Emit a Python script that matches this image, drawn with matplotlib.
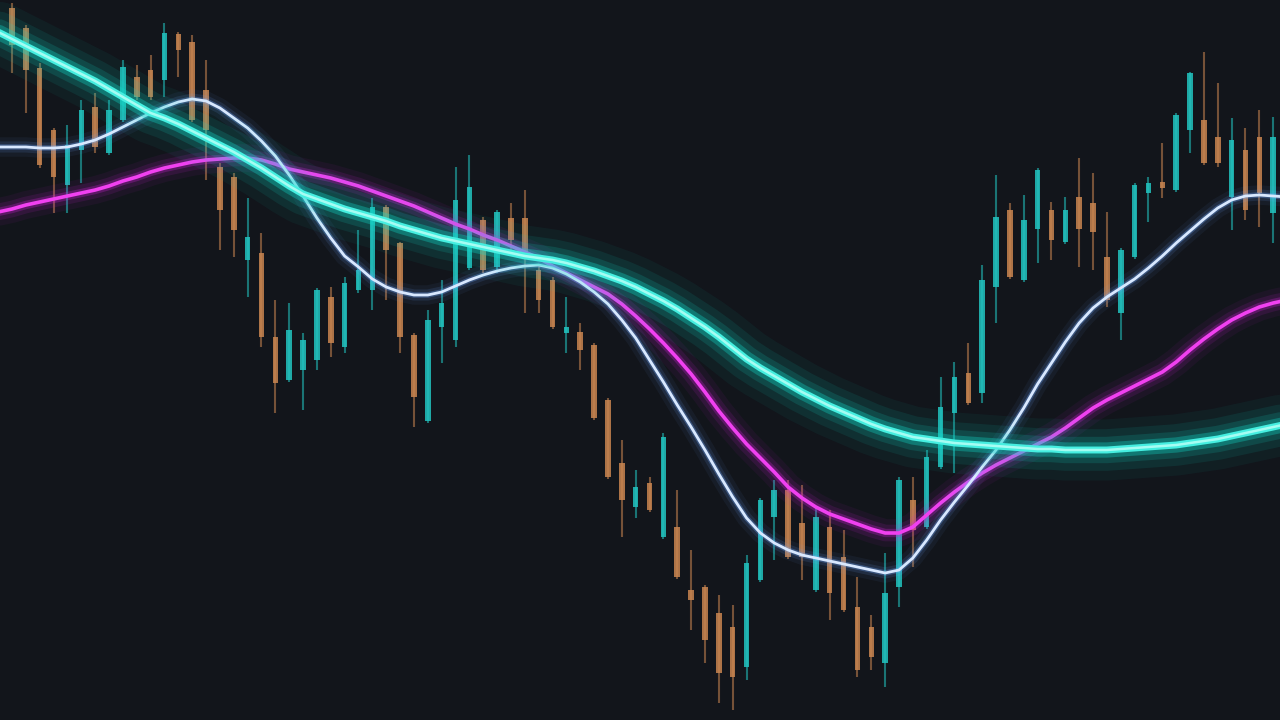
import matplotlib
matplotlib.use("Agg")
import matplotlib.pyplot as plt
import numpy as np

# candle data (index 0..91), colour follows open/close
opens = [71.2, 69.2, 65.2, 59.0, 53.5, 57.0, 61.3, 56.7, 60.0, 64.3,
         65.0, 64.0, 68.6, 67.8, 63.0, 55.3, 54.3, 46.0, 46.7, 38.3,
         34.0, 35.0, 36.0, 42.3, 37.3, 43.0, 43.0, 51.3, 47.7, 38.5,
         29.9, 39.3, 38.0, 45.2, 50.0, 45.3, 50.2, 50.2, 45.0, 44.0,
         38.7, 38.8, 37.5, 32.0, 25.7, 21.3, 23.7, 18.3, 19.3, 13.0,
         13.3, 10.7, 9.3, 5.3, 14.0, 20.3, 23.0, 19.7, 13.0, 19.3,
         16.3, 11.3, 9.3, 5.7, 13.3, 22.0, 19.3, 25.3, 30.7, 34.7,
         32.7, 43.3, 51.0, 44.0, 49.1, 51.0, 47.8, 52.3, 51.7, 46.3,
         40.7, 46.3, 52.7, 53.8, 53.0, 59.0, 60.0, 58.3, 52.3, 57.0,
         58.3, 50.7]
highs = [71.7, 69.5, 65.7, 59.2, 59.5, 62.0, 62.7, 62.0, 66.0, 65.5,
         66.5, 69.7, 68.8, 68.5, 66.0, 55.7, 54.7, 52.2, 48.7, 42.0,
         41.7, 38.7, 43.2, 43.3, 44.3, 49.0, 52.2, 51.5, 47.8, 38.7,
         41.0, 44.0, 55.3, 56.5, 50.3, 51.0, 51.7, 53.0, 45.5, 44.3,
         42.3, 39.7, 37.7, 32.2, 28.0, 25.0, 24.3, 28.7, 23.0, 17.0,
         13.5, 12.5, 11.5, 16.5, 22.2, 24.0, 24.0, 23.5, 21.2, 21.0,
         19.0, 14.3, 10.5, 16.7, 24.3, 24.3, 27.0, 34.3, 35.8, 37.7,
         45.5, 54.5, 51.7, 52.5, 55.2, 51.8, 52.3, 56.2, 54.7, 50.8,
         47.2, 53.7, 54.3, 57.7, 60.7, 64.8, 66.8, 63.7, 60.2, 59.2,
         61.0, 60.3]
lows = [64.7, 60.7, 55.2, 50.7, 50.7, 53.7, 56.7, 56.5, 59.8, 62.0,
        62.0, 62.3, 64.3, 59.8, 54.0, 47.0, 46.3, 42.3, 37.3, 30.7,
        33.8, 31.0, 35.0, 36.3, 36.7, 42.7, 41.0, 42.0, 36.7, 29.3,
        29.7, 35.7, 37.3, 45.0, 44.7, 44.7, 47.0, 40.7, 40.7, 39.1,
        36.7, 35.0, 30.0, 24.1, 18.3, 20.2, 20.8, 18.1, 14.1, 9.0,
        5.7, 1.7, 1.0, 4.0, 13.8, 16.0, 16.1, 14.0, 12.8, 10.0,
        10.8, 4.3, 5.0, 3.3, 11.3, 15.3, 19.1, 25.1, 24.7, 31.5,
        31.7, 39.7, 44.1, 43.8, 45.7, 46.0, 47.6, 45.3, 45.0, 41.3,
        38.0, 46.1, 49.8, 52.2, 52.8, 56.7, 55.5, 55.3, 49.0, 50.0,
        49.3, 47.7]
closes = [67.5, 65.0, 55.5, 54.3, 57.5, 61.0, 57.3, 61.0, 65.3, 62.3,
          62.3, 68.7, 67.0, 60.0, 59.0, 51.0, 49.0, 48.3, 38.3, 33.7,
          39.0, 38.0, 43.0, 37.7, 43.7, 45.0, 51.3, 47.0, 38.3, 32.3,
          40.0, 41.7, 52.0, 53.3, 45.0, 50.8, 48.0, 46.7, 42.0, 39.3,
          39.3, 37.0, 30.2, 24.3, 22.0, 23.3, 21.0, 28.3, 14.3, 12.0,
          8.0, 4.7, 4.3, 15.7, 22.0, 23.0, 16.3, 16.3, 20.3, 12.7,
          11.0, 5.0, 6.3, 12.7, 24.0, 19.0, 26.3, 31.3, 34.3, 31.7,
          44.0, 50.3, 44.3, 50.0, 55.0, 48.0, 51.0, 49.1, 48.8, 42.0,
          47.0, 53.5, 53.7, 53.2, 60.5, 64.7, 55.7, 55.7, 58.0, 51.0,
          52.7, 58.3]

# moving average curves, sampled at index -1..92
ma_index = list(range(-1, 93))
ma_cyan = [68.8, 68.1, 67.4, 66.7, 66.0, 65.3, 64.6, 63.9, 63.1, 62.3,
           61.5, 60.7, 60.2, 59.6, 58.9, 58.2, 57.5, 56.8, 56.0, 55.2,
           54.3, 53.4, 52.6, 52.1, 51.6, 51.1, 50.7, 50.3, 49.9, 49.4,
           49.0, 48.6, 48.2, 47.9, 47.6, 47.3, 47.0, 46.7, 46.4, 46.2,
           46.0, 45.7, 45.3, 44.9, 44.4, 43.9, 43.3, 42.6, 41.9, 41.1,
           40.2, 39.3, 38.3, 37.2, 36.1, 35.2, 34.4, 33.6, 32.8, 32.1,
           31.4, 30.8, 30.2, 29.6, 29.1, 28.7, 28.3, 28.1, 27.9, 27.7,
           27.6, 27.5, 27.4, 27.3, 27.2, 27.1, 27.1, 27.0, 27.0, 27.0,
           27.0, 27.1, 27.2, 27.3, 27.4, 27.5, 27.7, 27.9, 28.1, 28.4,
           28.7, 29.0, 29.3, 29.6]
ma_white = [57.3, 57.3, 57.3, 57.2, 57.2, 57.3, 57.6, 58.0, 58.6, 59.3,
            60.0, 60.7, 61.3, 61.8, 62.1, 61.9, 61.2, 60.2, 59.2, 57.9,
            56.4, 54.5, 52.4, 50.2, 48.2, 46.4, 45.3, 44.1, 43.3, 42.8,
            42.5, 42.5, 42.8, 43.4, 44.0, 44.5, 44.9, 45.2, 45.4, 45.5,
            45.2, 44.6, 43.8, 42.8, 41.6, 40.0, 38.2, 36.0, 33.8, 31.5,
            29.3, 27.0, 24.6, 22.3, 20.2, 18.7, 17.7, 17.0, 16.5, 16.2,
            15.9, 15.6, 15.3, 15.0, 14.7, 15.0, 16.2, 18.0, 20.0, 21.8,
            23.5, 25.3, 27.0, 29.0, 31.2, 33.6, 35.7, 37.8, 39.7, 41.2,
            42.3, 43.2, 44.1, 45.2, 46.4, 47.7, 48.9, 50.1, 51.2, 52.0,
            52.4, 52.5, 52.4, 52.3]
ma_magenta = [50.8, 51.1, 51.5, 51.8, 52.1, 52.4, 52.7, 53.0, 53.4, 53.9,
              54.3, 54.8, 55.2, 55.5, 55.8, 56.0, 56.1, 56.2, 56.2, 56.0,
              55.6, 55.1, 54.8, 54.5, 54.2, 53.8, 53.4, 52.9, 52.4, 51.9,
              51.4, 50.8, 50.2, 49.6, 49.1, 48.5, 48.0, 47.4, 46.8, 46.2,
              45.4, 44.7, 44.0, 43.3, 42.6, 41.6, 40.4, 39.1, 37.7, 36.2,
              34.6, 32.8, 30.9, 29.2, 27.6, 26.2, 24.8, 23.3, 22.2, 21.3,
              20.6, 20.1, 19.6, 19.1, 18.7, 18.7, 19.3, 20.5, 21.7, 22.8,
              23.8, 24.7, 25.5, 26.2, 26.9, 27.6, 28.3, 29.2, 30.2, 31.2,
              32.0, 32.7, 33.4, 34.1, 34.8, 35.8, 37.0, 38.1, 39.1, 40.0,
              40.7, 41.3, 41.7, 42.0]

BG = '#12151b'
UP = '#22c4c0'
DOWN = '#c98550'

fig = plt.figure(figsize=(12.8, 7.2), dpi=100, facecolor=BG)
ax = fig.add_axes([0, 0, 1, 1])
ax.set_facecolor(BG)

idx = np.arange(len(opens))
o = np.array(opens)
c = np.array(closes)
colors = [UP if cc >= oo else DOWN for oo, cc in zip(o, c)]

# candles
ax.vlines(idx, lows, highs, colors=colors, linewidth=1.5, alpha=0.55, zorder=1)
ax.bar(idx, np.maximum(np.abs(c - o), 0.3), bottom=np.minimum(o, c), width=0.4,
       color=colors, alpha=0.85, linewidth=0, zorder=2)


def glow_line(y, core, glow, widths, alphas, core_lw, z):
    for w, a in zip(widths, alphas):
        ax.plot(ma_index, y, color=glow, lw=w, alpha=a, solid_capstyle='round', zorder=z)
    ax.plot(ma_index, y, color=core, lw=core_lw, solid_capstyle='round', zorder=z + 1)


glow_line(ma_magenta, '#f040f0', '#d020d8', [20, 12, 6], [0.06, 0.12, 0.28], 2.6, 3)
glow_line(ma_white, '#d8e8ff', '#6fa8ff', [14, 8, 4], [0.06, 0.12, 0.3], 2.0, 5)
glow_line(ma_cyan, '#45eee0', '#10dccb', [44, 30, 19, 11], [0.05, 0.09, 0.15, 0.32], 5.0, 7)
ax.plot(ma_index, ma_cyan, color='#b8fff6', lw=1.8, alpha=0.85, zorder=9)

ax.set_xlim(-0.866, 91.49)
ax.set_ylim(0, 72)
ax.axis('off')

fig.savefig('out.png', dpi=100, facecolor=BG)
